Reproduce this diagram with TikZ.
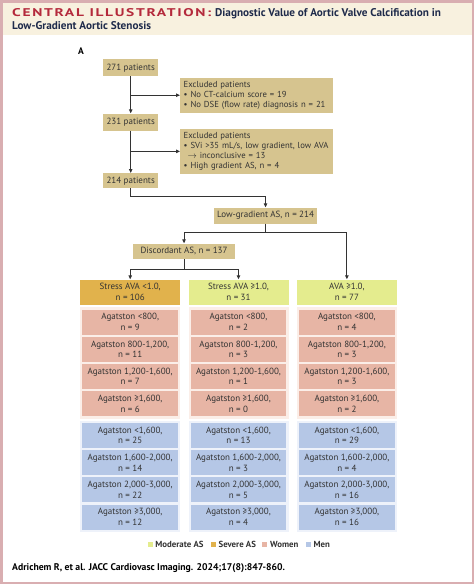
\documentclass[tikz,border=0pt]{standalone}
\usepackage{fontspec}
\setmainfont{PT Sans}
\usetikzlibrary{calc,arrows.meta}
\definecolor{frame}{HTML}{D9AEB1}
\definecolor{band}{HTML}{F8F1DF}
\definecolor{tan}{HTML}{D6C48F}
\definecolor{severe}{HTML}{E1B24C}
\definecolor{moderate}{HTML}{E4EC8E}
\definecolor{women}{HTML}{E7B5A5}
\definecolor{womenbg}{HTML}{FBEEE8}
\definecolor{men}{HTML}{B5C7E6}
\definecolor{menbg}{HTML}{EEF2FA}
\definecolor{txt}{HTML}{333333}
\definecolor{navy}{HTML}{1F2B4B}
\definecolor{ttlred}{HTML}{B42A3C}
\begin{document}
\begin{tikzpicture}[x=1pt,y=-1pt,
 box/.style={inner sep=0pt, anchor=north west, align=center, text=txt, font=\fontsize{9}{10.7}\selectfont},
 tanbox/.style={box, fill=tan},
 exbox/.style={tanbox, align=left, text width=145.7pt, inner xsep=3.5pt, font=\fontsize{8.7}{10.3}\selectfont},
 panel/.style={box, minimum width=100pt, minimum height=111.6pt},
 wbox/.style={box, fill=women, minimum width=95.6pt, minimum height=25pt},
 mbox/.style={box, fill=men, minimum width=95.6pt, minimum height=25pt},
 hdr/.style={box, minimum width=100pt, minimum height=25pt},
 arr/.style={draw=txt, line width=0.9pt, -{Triangle[length=4pt,width=3.5pt]}},
 legsq/.style={inner sep=0pt, minimum size=5pt},
 legtx/.style={anchor=west, inner sep=0pt, text=txt, font=\fontsize{8.8}{10}\selectfont\bfseries},
]
\useasboundingbox (0,0) rectangle (474,584);
% frame
\fill[frame] (0,0) rectangle (474,584);
\fill[white] (3,3) rectangle (471.5,581.5);
\fill[band] (3,3) rectangle (471.5,35);
% title
\node[anchor=base west, inner sep=0pt, text=navy, font=\fontsize{11.2}{12.5}\selectfont\bfseries] (t1) at (12,16.9)
 {{\color{ttlred}\addfontfeatures{FakeStretch=1.38,LetterSpace=15}CENTRAL ILLUSTRATION:}\hspace{1pt} Diagnostic Value of Aortic Valve Calcification in};
\node[anchor=base west, inner sep=0pt, text=navy, font=\fontsize{11.2}{12.5}\selectfont\bfseries] (t2) at (12,29.5)
 {Low-Gradient Aortic Stenosis};
\node[inner sep=0pt, font=\fontsize{9.5}{11}\selectfont\bfseries, text=black] (lbA) at (81,51) {A};
% flow
\node[tanbox, minimum width=55pt, minimum height=17pt] (p271) at (103,59) {271 patients};
\node[exbox, minimum height=35.4pt] (ex1) at (180,77.3)
 {Excluded patients\\• No CT-calcium score = 19\\• No DSE (flow rate) diagnosis n = 21};
\node[tanbox, minimum width=55pt, minimum height=17pt] (p231) at (103,113.3) {231 patients};
\node[exbox, minimum height=45.7pt] (ex2) at (180,128.3)
 {Excluded patients\\\mbox{• SVi >35 mL/s, low gradient, low AVA}\\\hspace*{4pt}$\rightarrow$ inconclusive = 13\\• High gradient AS, n = 4};
\node[tanbox, minimum width=55pt, minimum height=15pt] (p214) at (103,173) {214 patients};
\node[tanbox, minimum width=102.7pt, minimum height=16pt] (lg) at (214,207.3) {Low-gradient AS, n = 214};
\node[tanbox, minimum width=102.3pt, minimum height=15.7pt] (disc) at (132.7,243.3) {Discordant AS, n = 137};
\node[hdr, fill=severe] (c1) at (80,279.3) {Stress AVA <1.0,\\n = 106};
\node[hdr, fill=moderate] (c2) at (188.3,279.3) {Stress AVA ≥1.0,\\n = 31};
\node[hdr, fill=moderate] (c3) at (296.7,279.3) {AVA ≥1.0,\\n = 77};
% connectors
\draw[arr] (p271) -- (p231);
\draw[arr] (p271.south |- ex1.west) -- (ex1.west);
\draw[arr] (p231) -- (p214);
\draw[arr] (p231.south |- ex2.west) -- (ex2.west);
\draw[arr] (p214.south) -- ++(0,8.3) -| (lg.north);
\coordinate (j1) at ($(lg.south)+(0,8.4)$);
\draw[arr] (lg.south) -- (j1) -| (disc.north);
\draw[arr] (j1) -| (c3.north);
\coordinate (j2) at ($(disc.south)+(0,10)$);
\draw[arr] (disc.south) -- (j2) -| (c1.north);
\draw[arr] (j2) -| (c2.north);
% women and men panels
\foreach \i/\x/\a/\b/\c/\d/\e/\f/\g/\h in {1/80/9/11/7/6/25/14/22/12, 2/188.3/2/3/1/0/13/3/5/4, 3/296.7/4/3/3/2/29/4/16/16} {
  \node[panel, fill=womenbg] (wp\i) at (\x,306.7) {};
  \node[wbox] (w\i a) at (\x+2.2,309.3) {Agatston <800,\\n = \a};
  \node[wbox] (w\i b) at (\x+2.2,336.5) {Agatston 800-1,200,\\n = \b};
  \node[wbox] (w\i c) at (\x+2.2,363.7) {Agatston 1,200-1,600,\\n = \c};
  \node[wbox] (w\i d) at (\x+2.2,390.9) {Agatston ≥1,600,\\n = \d};
  \node[panel, fill=menbg] (mp\i) at (\x,420.3) {};
  \node[mbox] (m\i a) at (\x+2.2,422.7) {Agatston <1,600,\\n = \e};
  \node[mbox] (m\i b) at (\x+2.2,449.9) {Agatston 1,600-2,000,\\n = \f};
  \node[mbox] (m\i c) at (\x+2.2,477.1) {Agatston 2,000-3,000,\\n = \g};
  \node[mbox] (m\i d) at (\x+2.2,504.3) {Agatston ≥3,000,\\n = \h};
}
% legend
\node[legsq, fill=moderate] (lm) at (150,544.5) {};
\node[legtx] (lmt) at ([xshift=2.5pt]lm.east) {Moderate AS};
\node[legsq, fill=severe] (ls) at (213.2,544.5) {};
\node[legtx] (lst) at ([xshift=2.5pt]ls.east) {Severe AS};
\node[legsq, fill=women] (lw) at (264.8,544.5) {};
\node[legtx] (lwt) at ([xshift=2.5pt]lw.east) {Women};
\node[legsq, fill=men] (lmn) at (308.2,544.5) {};
\node[legtx] (lmnt) at ([xshift=2.5pt]lmn.east) {Men};
% footer
\node[anchor=base west, inner sep=0pt, font=\fontsize{9.7}{11}\selectfont\bfseries, text=black] (foot) at (12,570.7)
 {Adrichem R, et al. JACC Cardiovasc Imaging. 2024;17(8):847-860.};
\end{tikzpicture}
\end{document}
